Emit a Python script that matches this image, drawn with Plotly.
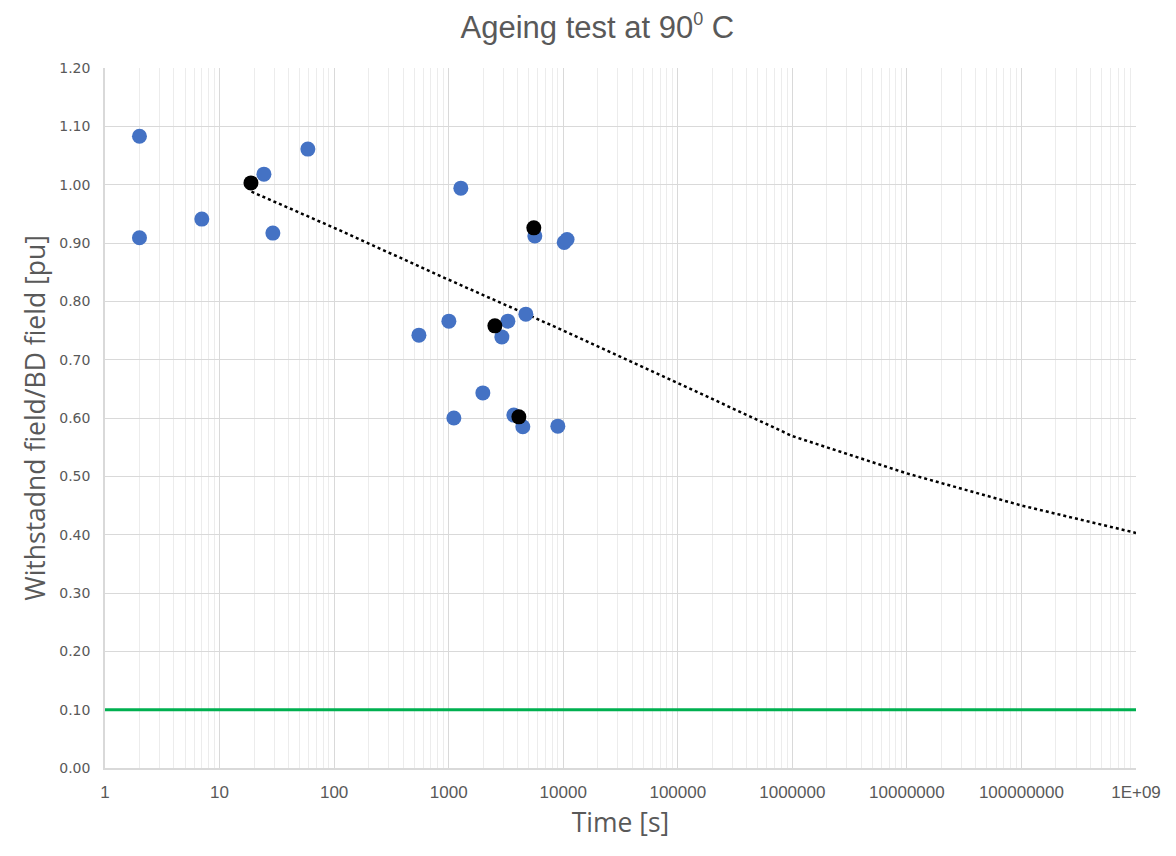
import plotly.graph_objects as go

# Blue data points (time [s], withstand/BD field [pu])
blue_time = [2, 2, 7, 24.4, 29.2, 59, 1277, 550, 1004, 1110, 1988, 2912, 3287, 4718, 3706, 4440, 5652, 8973, 10200, 10800]
blue_field = [1.083, 0.909, 0.941, 1.018, 0.917, 1.061, 0.994, 0.742, 0.766, 0.600, 0.643, 0.739, 0.766, 0.778, 0.605, 0.585, 0.912, 0.586, 0.901, 0.906]

# Black data points
black_time = [18.8, 2531, 4100, 5537]
black_field = [1.003, 0.758, 0.602, 0.926]

# Dotted trendline, read at each decade
trend_time = [19, 100, 1000, 1e4, 1e5, 1e6, 1e7, 1e8, 1e9]
trend_field = [0.988, 0.926, 0.837, 0.750, 0.660, 0.569, 0.505, 0.450, 0.403]

# Green limit line
limit_time = [1, 1e9]
limit_field = [0.1, 0.1]

x_tickvals = [1, 10, 100, 1000, 1e4, 1e5, 1e6, 1e7, 1e8, 1e9]
x_ticktext = ["1", "10", "100", "1000", "10000", "100000", "1000000", "10000000", "100000000", "1E+09"]

fig = go.Figure()
fig.add_trace(go.Scatter(x=limit_time, y=limit_field, mode="lines",
                         line=dict(color="#00b050", width=3), showlegend=False))
fig.add_trace(go.Scatter(x=trend_time, y=trend_field, mode="lines",
                         line=dict(color="black", width=2.5, dash="dot"), showlegend=False))
fig.add_trace(go.Scatter(x=blue_time, y=blue_field, mode="markers",
                         marker=dict(color="#4472c4", size=15), showlegend=False))
fig.add_trace(go.Scatter(x=black_time, y=black_field, mode="markers",
                         marker=dict(color="black", size=15), showlegend=False))

fig.update_layout(
    width=1176, height=856,
    margin=dict(l=105, r=40, t=68, b=88),
    paper_bgcolor="white", plot_bgcolor="white",
    title=dict(text="Ageing test at 90<sup><span style='font-size:18px'>0</span></sup> C",
               x=0.508, xanchor="center", y=0.968, yanchor="middle",
               font=dict(family="Liberation Sans, Arial, sans-serif", size=31, color="#595959")),
    xaxis=dict(type="log", range=[0, 9], tickvals=x_tickvals, ticktext=x_ticktext,
               showgrid=True, gridcolor="#d9d9d9", gridwidth=1,
               minor=dict(showgrid=True, gridcolor="#ececec", dtick="D1", ticks=""),
               showline=True, linecolor="#d9d9d9", linewidth=1.5, zeroline=False,
               ticks="", ticklabelstandoff=8,
               tickfont=dict(family="Liberation Sans, Arial, sans-serif", size=17, color="#595959"),
               title=dict(text="Time [s]", standoff=12,
                          font=dict(family="Open Sans, Noto Sans, sans-serif", size=26.5, color="#595959"))),
    yaxis=dict(range=[0, 1.2], dtick=0.1, tickformat=".2f",
               showgrid=True, gridcolor="#d9d9d9", gridwidth=1,
               showline=True, linecolor="#d9d9d9", linewidth=1.5, zeroline=False,
               ticks="", ticklabelstandoff=10,
               tickfont=dict(family="DejaVu Sans, sans-serif", size=14, color="#595959"),
               title=dict(text="Withstadnd field/BD field [pu]", standoff=6,
                          font=dict(family="Open Sans, Noto Sans, sans-serif", size=26.5, color="#595959"))),
)

fig.write_html("out.html")
